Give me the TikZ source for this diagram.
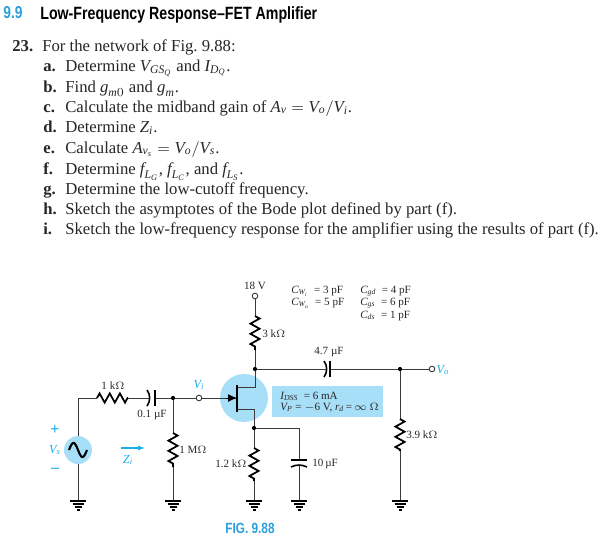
\documentclass[tikz,border=0pt]{standalone}
\usepackage{amsmath}
\usepackage{fontspec}
\setmainfont{Liberation Serif}
\newfontfamily\headfont[FakeStretch=0.8]{Liberation Sans}
\usetikzlibrary{positioning,calc,arrows.meta,decorations.pathmorphing}

\definecolor{bookblue}{HTML}{2A9FDC}
\definecolor{lightblue}{HTML}{A8DFF8}
\definecolor{labelblue}{HTML}{1AAEEA}
\definecolor{wirecol}{HTML}{3A3A3A}
\newcommand{\iv}[1]{\textit{#1}}

\tikzset{
    wire/.style={line width=0.55pt, draw=wirecol},
    resistor/.style={line width=1pt, black, decorate, decoration={zigzag, segment length=5.8pt, amplitude=2.6pt}},
    plate/.style={line width=0.9pt, black},
    bodytext/.style={anchor=base west, inner sep=0pt, font=\fontsize{9.5}{10}\selectfont, text=black!85},
    itemtext/.style={bodytext, font=\fontsize{9.5}{10}\selectfont\bfseries},
    val/.style={inner sep=0pt, font=\fontsize{6.3}{7}\selectfont, text=black!85},
    param/.style={val, anchor=base west},
    bluelabel/.style={val, text=labelblue, font=\fontsize{7}{8}\selectfont\itshape},
    terminal/.style={circle, draw=wirecol, fill=white, line width=0.5pt, inner sep=0pt, minimum size=3.2pt},
    junction/.style={circle, fill=black, inner sep=0pt, minimum size=2.4pt},
    gnd/.pic={
        \draw[line width=1.1pt, black] (-8,0) -- (8,0);
        \draw[line width=0.9pt, black] (-5.5,3) -- (5.5,3);
        \draw[line width=0.9pt, black] (-3.5,6) -- (3.5,6);
        \draw[line width=0.9pt, black] (-1.5,9) -- (1.5,9);
    }
}

\begin{document}
\begin{tikzpicture}[x=0.02cm, y=-0.02cm]
    \useasboundingbox (0,0) rectangle (606,538);

    % heading
    \node[anchor=base west, inner sep=0pt, text=bookblue, font=\headfont\fontsize{9.8}{10}\selectfont\bfseries] (secnum) at (3,18) {9.9};
    \node[anchor=base west, inner sep=0pt, text=black, font=\headfont\fontsize{10.1}{10}\selectfont\bfseries] (sectitle) at (40,19) {Low-Frequency Response–FET Amplifier};

    % problem text
    \node[itemtext] (num) at (12,51) {23.};
    \node[bodytext] (line0) at (42,51) {For the network of Fig.\ 9.88:};
    \node[itemtext] (ia) at (43,71) {a.};
    \node[bodytext] (linea) at (65,71) {Determine $\iv{V}_{\iv{GS}_{\iv{Q}}}$ and $\iv{I}_{\iv{D}_{\iv{Q}}}$.};
    \node[itemtext] (ib) at (43,92) {b.};
    \node[bodytext] (lineb) at (65,92) {Find $\iv{g}_{\iv{m}0}$ and $\iv{g}_{\iv{m}}$.};
    \node[itemtext] (ic) at (43,112) {c.};
    \node[bodytext] (linec) at (65,112) {Calculate the midband gain of $\iv{A}_{\iv{v}} = \iv{V}_{\iv{o}}/\iv{V}_{\iv{i}}$.};
    \node[itemtext] (id) at (43,132) {d.};
    \node[bodytext] (lined) at (65,132) {Determine $\iv{Z}_{\iv{i}}$.};
    \node[itemtext] (ie) at (43,153) {e.};
    \node[bodytext] (linee) at (65,153) {Calculate $\iv{A}_{\iv{v}_{\iv{s}}} = \iv{V}_{\iv{o}}/\iv{V}_{\iv{s}}$.};
    \node[itemtext] (if) at (43,174) {f.};
    \node[bodytext] (linef) at (65,174) {Determine $\iv{f}_{\iv{L}_{\iv{G}}}$, $\iv{f}_{\iv{L}_{\iv{C}}}$, and $\iv{f}_{\iv{L}_{\iv{S}}}$.};
    \node[itemtext] (ig) at (43,194) {g.};
    \node[bodytext] (lineg) at (65,194) {Determine the low-cutoff frequency.};
    \node[itemtext] (ih) at (43,214) {h.};
    \node[bodytext] (lineh) at (65,214) {Sketch the asymptotes of the Bode plot defined by part (f).};
    \node[itemtext] (ii) at (43,234) {i.};
    \node[bodytext] (linei) at (65,234) {Sketch the low-frequency response for the amplifier using the results of part (f).};

    % blue areas
    \fill[lightblue] (244,398) circle (24);
    \fill[lightblue] (78,450) circle (14);
    \node[fill=lightblue, minimum width=111*0.02cm, minimum height=31*0.02cm, inner sep=0pt, anchor=north west] (paramsbox) at (272,386) {};

    % circuit points
    \node[terminal] (vdd) at (255,296) {};
    \coordinate (rdtop) at (255,316);
    \coordinate (rdbot) at (255,350);
    \node[junction] (drainj) at (255,369) {};
    \coordinate (drainl) at (255,387);
    \coordinate (draing) at (237,387);
    \coordinate (sourcel) at (237,409);
    \coordinate (sourcer) at (254,409);
    \node[junction] (sourcej) at (254,428) {};
    \coordinate (rstop) at (254,448);
    \coordinate (rsbot) at (254,481);
    \coordinate (gndrs) at (254,501);
    \coordinate (cscorner) at (299,428);
    \coordinate (cstop) at (299,460);
    \coordinate (csbot) at (299,466);
    \coordinate (gndcs) at (299,501);
    \coordinate (ccl) at (326,369);
    \coordinate (ccr) at (330,369);
    \node[junction] (outj) at (400,369) {};
    \node[terminal] (vout) at (432,369) {};
    \coordinate (rltop) at (400,419);
    \coordinate (rlbot) at (400,451);
    \coordinate (gndrl) at (400,501);
    \coordinate (srctop) at (78,436);
    \coordinate (srcbot) at (78,464);
    \coordinate (srccorner) at (78,398);
    \coordinate (gndsrc) at (78,501);
    \coordinate (rsigl) at (97,398);
    \coordinate (rsigr) at (128,398);
    \coordinate (cgl) at (149,398);
    \coordinate (cgr) at (155,398);
    \node[junction] (gatej) at (173,398) {};
    \node[terminal] (vin) at (199,398) {};
    \coordinate (gatetip) at (237,398);
    \coordinate (rgtop) at (173,433);
    \coordinate (rgbot) at (173,467);
    \coordinate (gndrg) at (173,501);

    % wires
    \draw[wire] (vdd) -- (rdtop);
    \draw[wire] (rdbot) -- (drainj) -- (drainl) -- (draing);
    \draw[wire] (drainj) -- (ccl);
    \draw[wire] (ccr) -- (outj) -- (vout);
    \draw[wire] (outj) -- (rltop);
    \draw[wire] (rlbot) -- (gndrl);
    \draw[wire] (sourcel) -- (sourcer) -- (sourcej) -- (rstop);
    \draw[wire] (rsbot) -- (gndrs);
    \draw[wire] (sourcej) -- (cscorner) -- (cstop);
    \draw[wire] (csbot) -- (gndcs);
    \draw[wire] (srctop) -- (srccorner) -- (rsigl);
    \draw[wire] (srcbot) -- (gndsrc);
    \draw[wire] (rsigr) -- (cgl);
    \draw[wire] (cgr) -- (gatej) -- (vin) -- (gatetip);
    \draw[wire] (gatej) -- (rgtop);
    \draw[wire] (rgbot) -- (gndrg);

    % resistors
    \draw[resistor] (rdtop) -- (rdbot);
    \draw[resistor] (rstop) -- (rsbot);
    \draw[resistor] (rltop) -- (rlbot);
    \draw[resistor] (rsigl) -- (rsigr);
    \draw[resistor] (rgtop) -- (rgbot);

    % capacitors
    \draw[plate] (ccr) ++(0,-8) -- ++(0,16);
    \draw[plate] (ccl) ++(-2,-8) to[bend left=35] ++(0,16);
    \draw[plate] (cgr) ++(0,-8) -- ++(0,16);
    \draw[plate] (cgl) ++(-2,-8) to[bend left=35] ++(0,16);
    \draw[plate] (cstop) ++(-8,0) -- ++(16,0);
    \draw[plate] (csbot) ++(-8,1) to[bend left=25] ++(16,0);

    % FET
    \draw[line width=1.3pt, black] (237,385) -- (237,412);
    \draw[-{Latex[length=9*0.02cm, width=8*0.02cm]}, line width=0.5pt, black] (226,398) -- (gatetip);

    % source symbol
    \draw[line width=1.2pt, black, domain=-9:9, samples=40, smooth] plot ({78+\x}, {450+7*sin(\x*20)});

    % grounds
    \pic at (gndrs) {gnd};
    \pic at (gndcs) {gnd};
    \pic at (gndrl) {gnd};
    \pic at (gndsrc) {gnd};
    \pic at (gndrg) {gnd};

    % Zi arrow
    \coordinate (zistart) at (121,448);
    \coordinate (ziend) at (145,448);
    \draw[-{Latex[length=7*0.02cm, width=5*0.02cm]}, line width=0.7pt, labelblue] (zistart) -- (ziend);

    % labels
    \node[val] (lvdd) at (255,286) {18 V};
    \node[val, anchor=west] (lrd) at (262,334) {3 k$\Omega$};
    \node[val] (lcc) at (329,352) {4.7 µF};
    \node[val] (lrsig) at (113,386) {1 k$\Omega$};
    \node[val] (lcg) at (152,415) {0.1 µF};
    \node[val, anchor=west] (lrg) at (179,450) {1 M$\Omega$};
    \node[val] (lrs) at (231,464) {1.2 k$\Omega$};
    \node[val, anchor=west] (lcs) at (312,464) {10\,µF};
    \node[val, anchor=west] (lrl) at (406,435) {3.9 k$\Omega$};

    \node[param] (cwi) at (291,293) {$\iv{C}_{\iv{W}_{\iv{i}}}$ \ =\ 3 pF};
    \node[param] (cwo) at (291,305) {$\iv{C}_{\iv{W}_{\iv{o}}}$ \ =\ 5 pF};
    \node[param] (cgd) at (360,293) {$\iv{C}_{\iv{gd}}$ \ =\ 4 pF};
    \node[param] (cgs) at (360,305) {$\iv{C}_{\iv{gs}}$ \ =\ 6 pF};
    \node[param] (cds) at (360,318) {$\iv{C}_{\iv{ds}}$ \ =\ 1 pF};

    \node[param] (idss) at (280,399) {$\iv{I}_{\iv{DSS}}$ \ =\ 6 mA};
    \node[param] (vp) at (280,410) {$\iv{V}_{\iv{P}}$ = $-$6 V, $\iv{r}_{\iv{d}}$\,=\,$\infty$ $\Omega$};

    \node[bluelabel] (lvo) at (443,370) {$\iv{V}_{\iv{o}}$};
    \node[bluelabel] (lvi) at (199,385) {$\iv{V}_{\iv{i}}$};
    \node[bluelabel] (lzi) at (128,460) {$\iv{Z}_{\iv{i}}$};
    \node[bluelabel] (lvs) at (55,450) {$\iv{V}_{\iv{s}}$};
    \node[bluelabel, font=\fontsize{9}{9}\selectfont\bfseries] (lplus) at (55,430) {+};
    \node[bluelabel, font=\fontsize{9}{9}\selectfont\bfseries] (lminus) at (55,470) {–};

    \node[inner sep=0pt, text=bookblue, font=\headfont\fontsize{8.4}{8}\selectfont\bfseries] (figcap) at (250,528) {FIG. 9.88};
\end{tikzpicture}
\end{document}
